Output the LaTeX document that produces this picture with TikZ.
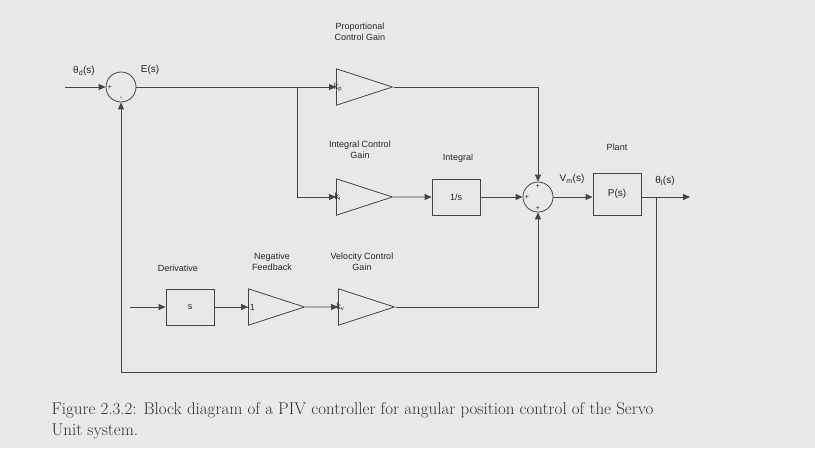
\documentclass[tikz,border=0pt]{standalone}
\usepackage{fontspec}
\newfontfamily\dsf{Liberation Sans}
\usetikzlibrary{arrows.meta,shapes.geometric}
\definecolor{bg}{RGB}{232,232,230}
\definecolor{ln}{RGB}{70,70,70}
\begin{document}
\begin{tikzpicture}[x=1pt,y=-1pt,
  every node/.style={font=\dsf\fontsize{9}{10.5}\selectfont,text=black!85},
  ln/.style={draw=ln,line width=0.8pt},
  arr/.style={ln,-{Triangle[length=7pt,width=6pt]}},
  sum/.style={ln,circle,minimum size=30pt,inner sep=0pt},
  blk/.style={ln,rectangle,minimum width=48pt,minimum height=36pt,inner sep=0pt},
  gain/.style={ln,isosceles triangle,isosceles triangle apex angle=36,minimum height=56pt,inner sep=0pt,anchor=west}]
\fill[bg] (0,0) rectangle (815,448);
\useasboundingbox (0,0) rectangle (815,448);
\node[sum] (s1) at (121,87) {};
\node[sum] (s2) at (538,197) {};
\node[gain] (kp) at (336,87) {\hspace*{-14pt}k\textsubscript{p}};
\node[gain] (ki) at (336,197) {\hspace*{-14pt}k\textsubscript{i}};
\node[gain] (neg) at (248,307) {\hspace*{-14pt}-1};
\node[gain] (kv) at (338,307) {\hspace*{-14pt}k\textsubscript{v}};
\node[blk] (int) at (456,197) {1/s};
\node[blk,minimum height=42pt] (pl) at (617,194) {\fontsize{10}{11}\selectfont P(s)};
\node[blk] (der) at (190,307) {s};
\coordinate (in) at (65,87);
\coordinate (out) at (690,197);
\coordinate (b1) at (297,87);
\coordinate (b2) at (656,197);
\coordinate (b3) at (130,307);
\node[align=center] at (360,32) {Proportional\\Control Gain};
\node[align=center] at (360,150) {Integral Control\\Gain};
\node at (458,158) {Integral};
\node at (617,147) {Plant};
\node at (178,268) {Derivative};
\node[align=center] at (272,262) {Negative\\Feedback};
\node[align=center] at (362,262) {Velocity Control\\Gain};
\node[font=\dsf\fontsize{10}{11}\selectfont] at (84,71) {θ\textsubscript{d}(s)};
\node[font=\dsf\fontsize{10}{11}\selectfont] at (150,70) {E(s)};
\node[font=\dsf\fontsize{10}{11}\selectfont] at (572,179) {V\textsubscript{m}(s)};
\node[font=\dsf\fontsize{10}{11}\selectfont] at (665,181) {θ\textsubscript{l}(s)};
\node[font=\dsf\fontsize{7}{7}\selectfont] at (110,87) {+};
\node[font=\dsf\fontsize{7}{7}\selectfont] at (121,98) {-};
\node[font=\dsf\fontsize{7}{7}\selectfont] at (538,186) {+};
\node[font=\dsf\fontsize{7}{7}\selectfont] at (527,197) {+};
\node[font=\dsf\fontsize{7}{7}\selectfont] at (538,208) {+};
\draw[arr] (in) -- (s1.west);
\draw[arr] (s1.east) -- (kp.west);
\draw[arr] (b1) |- (ki.west);
\draw[arr] (ki.apex) -- (int.west);
\draw[arr] (int.east) -- (s2.west);
\draw[arr] (kp.apex) -| (s2.north);
\draw[arr] (s2.east) -- (pl.west |- s2);
\draw[arr] (pl.east |- s2) -- (out);
\draw[arr] (b2) |- (121,372) -- (s1.south);
\draw[arr] (b3) -- (der.west);
\draw[arr] (der.east) -- (neg.west);
\draw[arr] (neg.apex) -- (kv.west);
\draw[arr] (kv.apex) -| (s2.south);
\node[anchor=west,align=left,font=\rmfamily\fontsize{17}{21}\selectfont,text=black!80] at (48,421) {Figure 2.3.2: Block diagram of a PIV controller for angular position control of the Servo\\Unit system.};
\end{tikzpicture}
\end{document}
